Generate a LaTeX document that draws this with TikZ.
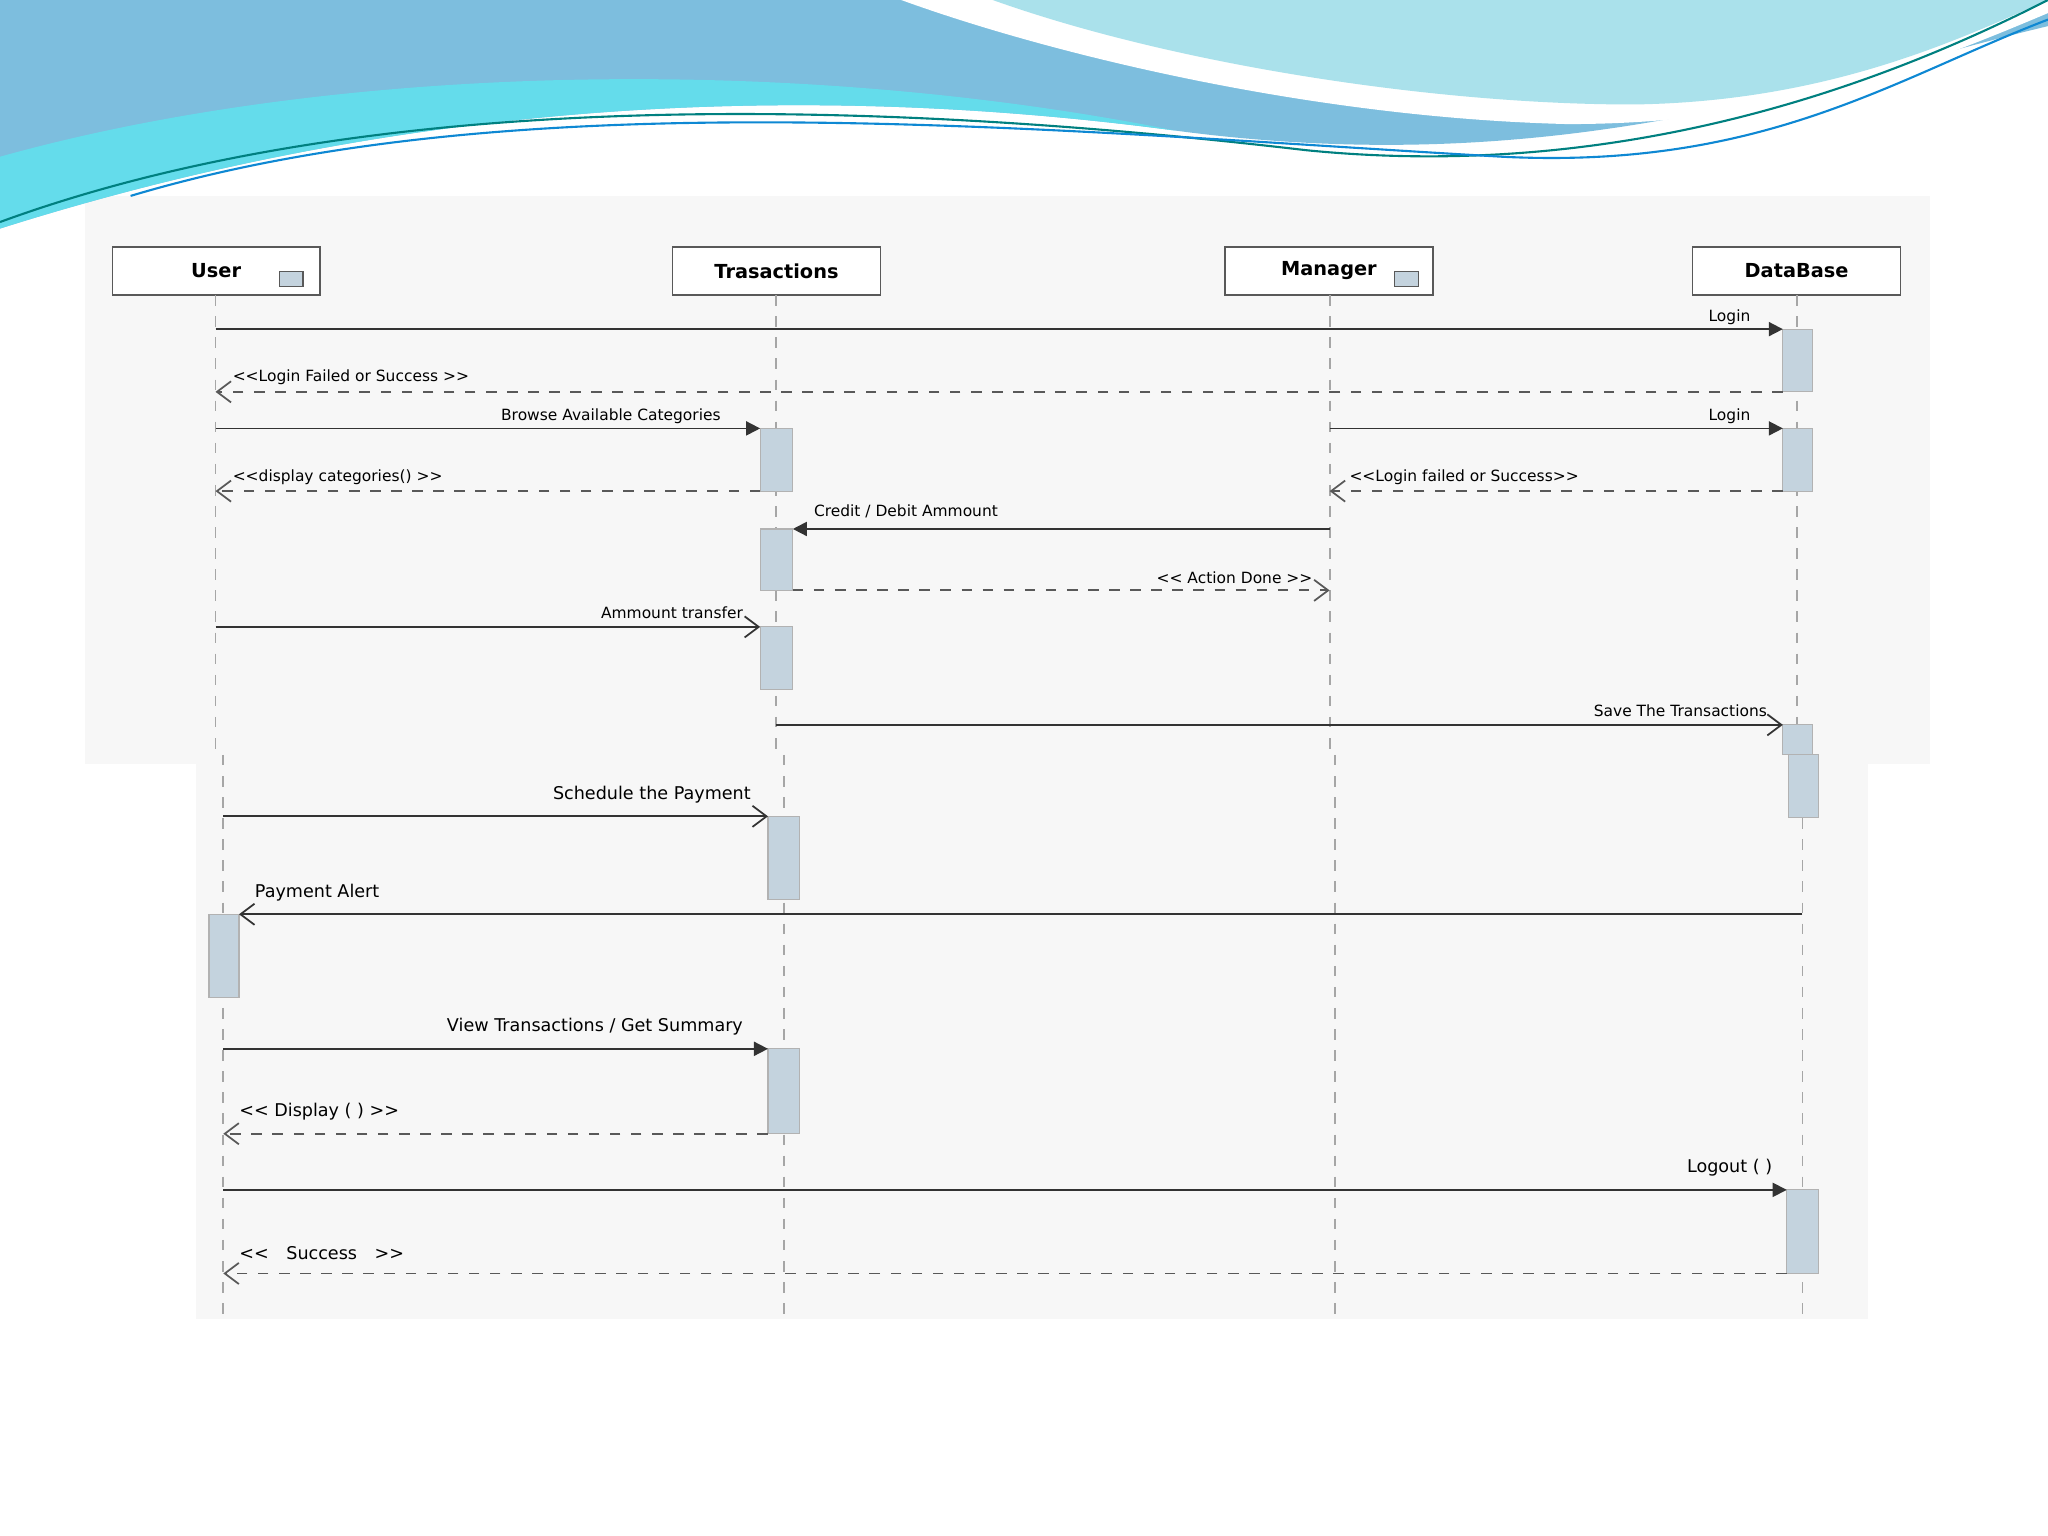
\documentclass[tikz,border=0pt]{standalone}
\usepackage{fontspec}
\setmainfont{DejaVu Sans}
\usetikzlibrary{arrows.meta}
\definecolor{actc}{RGB}{196,211,222}
\definecolor{wave1}{RGB}{125,190,222}
\definecolor{wave2}{RGB}{100,220,235}
\definecolor{wave3}{RGB}{170,225,235}
\begin{document}
\begin{tikzpicture}[x=0.013061cm,y=-0.013061cm,
  hdr/.style={draw=gray!70!black,fill=white,minimum width=159*0.013061cm,minimum height=37*0.013061cm,inner sep=0,font=\fontsize{5.5}{6}\selectfont\bfseries},
  life/.style={draw=gray!70,dashed,line width=0.5pt},
  act/.style={draw=gray!60,fill=actc,line width=0.3pt},
  msg/.style={draw=black!80,line width=0.5pt,-{Triangle[length=4pt,width=4pt]}},
  opn/.style={draw=black!80,line width=0.5pt,-{Straight Barb[length=4pt,width=6pt]}},
  ret/.style={draw=gray!70!black,dashed,line width=0.5pt,-{Straight Barb[length=4pt,width=6pt]}},
  lbs/.style={font=\fontsize{4.4}{5}\selectfont,inner sep=1pt,anchor=south},
  lbl/.style={font=\fontsize{5}{6}\selectfont,inner sep=1pt,anchor=south}]
\useasboundingbox (0,0) rectangle (1568,1176);
\fill[white] (0,0) rectangle (1568,1176);
\fill[gray!6] (65,150) rectangle (1478,585);
\fill[gray!6] (150,585) rectangle (1430,1010);
% top waves
\fill[wave1] (0,0) -- (0,175) .. controls (300,80) and (600,60) .. (900,100) .. controls (1200,140) and (1400,60) .. (1568,20) -- (1568,0) -- cycle;
\fill[wave2] (0,175) .. controls (300,80) and (600,60) .. (900,100) .. controls (600,40) and (250,50) .. (0,120) -- cycle;
\fill[white] (690,0) .. controls (800,40) and (1000,90) .. (1200,95) .. controls (1350,95) and (1450,60) .. (1568,10) -- (1568,0) -- cycle;
\fill[wave3] (760,0) .. controls (900,50) and (1100,80) .. (1250,80) .. controls (1400,78) and (1500,30) .. (1568,0) -- cycle;
\draw[teal,line width=0.6pt] (0,170) .. controls (300,60) and (700,80) .. (1000,115) .. controls (1250,140) and (1450,60) .. (1568,0);
\draw[cyan!70!blue,line width=0.6pt] (100,150) .. controls (400,60) and (800,100) .. (1150,120) .. controls (1350,130) and (1450,60) .. (1568,15);
% headers
\node[hdr] (U) at (165.5,207.5) {User};
\node[hdr] (T) at (594.5,207.5) {Trasactions};
\node[hdr] (M) at (1017.5,207.5) {Manager};
\node[hdr] (D) at (1375.5,207.5) {DataBase};
\foreach \x in {223,1077}{\draw[gray!70!black,fill=actc,line width=0.3pt] (\x-9,208) rectangle (\x+9,219);}
% lifelines
\foreach \a/\b in {165/171,594/600,1018/1022,1376/1380}{
  \draw[life] (\a,226) -- (\a,578);
  \draw[life] (\b,578) -- (\b,1010);}
% named coordinates
\foreach \n/\x in {u/165,t/594,m/1018,d/1376}{
 \foreach \y in {252,300,328,376,405,452,480,555}{\coordinate (\n\y) at (\x,\y);}}
\foreach \n/\x in {u/171,t/600,m/1022,d/1380}{
 \foreach \y in {625,700,803,868,911,975}{\coordinate (\n\y) at (\x,\y);}}
% activations
\path[act] (1365,252) rectangle (1388,300);
\path[act] (582,328) rectangle (607,376);
\path[act] (1365,328) rectangle (1388,376);
\path[act] (582,405) rectangle (607,452);
\path[act] (582,480) rectangle (607,528);
\path[act] (1365,555) rectangle (1388,578);
\path[act] (1369,578) rectangle (1392,626);
\path[act] (588,625) rectangle (612,689);
\path[act] (160,700) rectangle (183,764);
\path[act] (588,803) rectangle (612,868);
\path[act] (1368,911) rectangle (1392,975);
% messages
\draw[msg] (u252) -- ([xshift=-11*0.013061cm]d252) node[lbs,pos=1,anchor=south east,xshift=-8pt] {Login};
\draw[ret] ([xshift=-11*0.013061cm]d300) -- (u300);
\node[lbs,anchor=south west] at (175,298) {{<}{<}Login Failed or Success {>}{>}};
\draw[msg] (u328) -- ([xshift=-12*0.013061cm]t328) node[lbs,pos=1,anchor=south east,xshift=-10pt] {Browse Available Categories};
\draw[ret] ([xshift=-12*0.013061cm]t376) -- (u376);
\node[lbs,anchor=south west] at (175,374) {{<}{<}display categories() {>}{>}};
\draw[msg] (m328) -- ([xshift=-11*0.013061cm]d328) node[lbs,pos=1,anchor=south east,xshift=-8pt] {Login};
\draw[ret] ([xshift=-11*0.013061cm]d376) -- (m376);
\node[lbs,anchor=south west] at (1030,374) {{<}{<}Login failed or Success{>}{>}};
\draw[msg] (m405) -- ([xshift=13*0.013061cm]t405);
\node[lbs,anchor=south west] at (620,400) {Credit / Debit Ammount};
\draw[ret] ([xshift=13*0.013061cm]t452) -- (m452);
\node[lbs,anchor=south east] at (1008,450) {{<}{<} Action Done {>}{>}};
\draw[opn] (u480) -- ([xshift=-12*0.013061cm]t480);
\node[lbs,anchor=south east] at (572,477) {Ammount transfer};
\draw[opn] (t555) -- ([xshift=-11*0.013061cm]d555);
\node[lbs,anchor=south east] at (1356,552) {Save The Transactions};
\draw[opn] (u625) -- ([xshift=-12*0.013061cm]t625);
\node[lbl,anchor=south east] at (578,618) {Schedule the Payment};
\draw[opn] (d700) -- ([xshift=12*0.013061cm]u700);
\node[lbl,anchor=south west] at (192,693) {Payment Alert};
\draw[msg] (u803) -- ([xshift=-12*0.013061cm]t803);
\node[lbl,anchor=south east] at (572,796) {View Transactions / Get Summary};
\draw[ret] ([xshift=-12*0.013061cm]t868) -- (u868);
\node[lbl,anchor=south west] at (180,861) {{<}{<} Display ( ) {>}{>}};
\draw[msg] (u911) -- ([xshift=-12*0.013061cm]d911);
\node[lbl,anchor=south east] at (1360,904) {Logout ( )};
\draw[ret] ([xshift=-12*0.013061cm]d975) -- (u975);
\node[lbl,anchor=south west] at (180,968) {{<}{<}\quad Success\quad {>}{>}};
\end{tikzpicture}
\end{document}
